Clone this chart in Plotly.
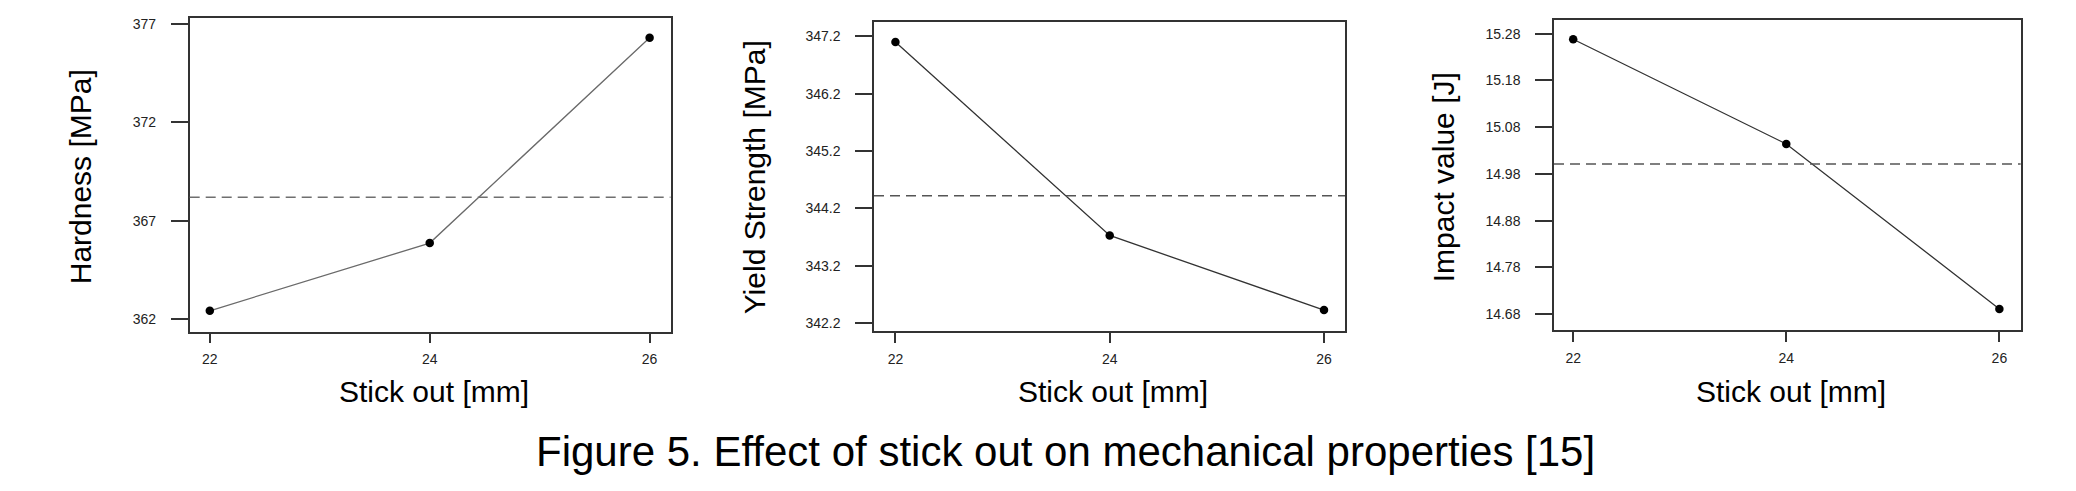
import plotly.graph_objects as go

# ---- data ----
stick_out = [22, 24, 26]
hardness = [362.42, 365.86, 376.29]
yield_strength = [347.10, 343.73, 342.43]
impact_value = [15.268, 15.044, 14.691]

x_ticks = [22, 24, 26]
hardness_ticks = [362, 367, 372, 377]
yield_ticks = [342.2, 343.2, 344.2, 345.2, 346.2, 347.2]
impact_ticks = [14.68, 14.78, 14.88, 14.98, 15.08, 15.18, 15.28]

y_titles = ["Hardness [MPa]", "Yield Strength [MPa]", "Impact value [J]"]
x_title = "Stick out [mm]"
caption = "Figure 5. Effect of stick out on mechanical properties [15]"

W, H = 2076, 491
FONT = "Liberation Sans, Arial, sans-serif"

panels = [
    dict(y=hardness, ticks=hardness_ticks, fmt="d",
         xdom=(189.7, 670.5), ydom=(16, 331), xr=(21.817, 26.19), yr=(361.36, 377.30),
         line="#6a6a6a", dash="#6f6f6f", ytx=80, xtx=434),
    dict(y=yield_strength, ticks=yield_ticks, fmt=".1f",
         xdom=(874, 1345), ydom=(20, 330.7), xr=(21.8, 26.196), yr=(342.06, 347.45),
         line="#333333", dash="#555555", ytx=754, xtx=1113),
    dict(y=impact_value, ticks=impact_ticks, fmt=".2f",
         xdom=(1554, 2020.7), ydom=(17.7, 329.3), xr=(21.82, 26.2), yr=(14.646, 15.310),
         line="#333333", dash="#555555", ytx=1443, xtx=1791),
]

fig = go.Figure()
layout = {}
shapes = []
annotations = []

for i, p in enumerate(panels, start=1):
    xa = "x" if i == 1 else f"x{i}"
    ya = "y" if i == 1 else f"y{i}"
    fig.add_trace(go.Scatter(
        x=stick_out, y=p["y"], mode="lines+markers", xaxis=xa, yaxis=ya,
        line=dict(color=p["line"], width=1.3),
        marker=dict(color="black", size=8.5),
        showlegend=False, hoverinfo="skip", cliponaxis=False,
    ))
    mean_val = sum(p["y"]) / len(p["y"])
    shapes.append(dict(type="line", xref=f"{xa} domain", yref=ya,
                       x0=0, x1=1, y0=mean_val, y1=mean_val,
                       line=dict(color=p["dash"], width=1.5, dash="10px,6px")))
    axcommon = dict(showline=True, mirror=True, linecolor="#333333", linewidth=1.5,
                    showgrid=False, zeroline=False, ticks="outside",
                    tickcolor="#333333", tickwidth=1.5,
                    tickfont=dict(family=FONT, size=14, color="#222222"))
    layout[f"xaxis{'' if i == 1 else i}"] = dict(
        domain=[p["xdom"][0] / W, p["xdom"][1] / W], anchor=ya,
        range=list(p["xr"]), tickvals=x_ticks, ticktext=[str(v) for v in x_ticks],
        ticklen=10, ticklabelstandoff=4, **axcommon)
    layout[f"yaxis{'' if i == 1 else i}"] = dict(
        domain=[1 - p["ydom"][1] / H, 1 - p["ydom"][0] / H], anchor=xa,
        range=list(p["yr"]), tickvals=p["ticks"],
        ticktext=[format(v, p["fmt"]) for v in p["ticks"]],
        ticklen=17, ticklabelstandoff=12, **axcommon)
    annotations.append(dict(text=y_titles[i - 1], xref="paper", yref="paper",
                            x=p["ytx"] / W, y=1 - 176 / H, xanchor="center", yanchor="middle",
                            textangle=-90, showarrow=False,
                            font=dict(family=FONT, size=30, color="black")))
    annotations.append(dict(text=x_title, xref="paper", yref="paper",
                            x=p["xtx"] / W, y=1 - 391 / H, xanchor="center", yanchor="middle",
                            showarrow=False,
                            font=dict(family=FONT, size=30, color="black")))

annotations.append(dict(text=caption, xref="paper", yref="paper",
                        x=1065 / W, y=1 - 451 / H, xanchor="center", yanchor="middle",
                        showarrow=False, font=dict(family=FONT, size=42, color="black")))

fig.update_layout(
    width=W, height=H, margin=dict(l=0, r=0, t=0, b=0),
    paper_bgcolor="white", plot_bgcolor="white",
    shapes=shapes, annotations=annotations, **layout,
)

fig.write_html("out.html")
